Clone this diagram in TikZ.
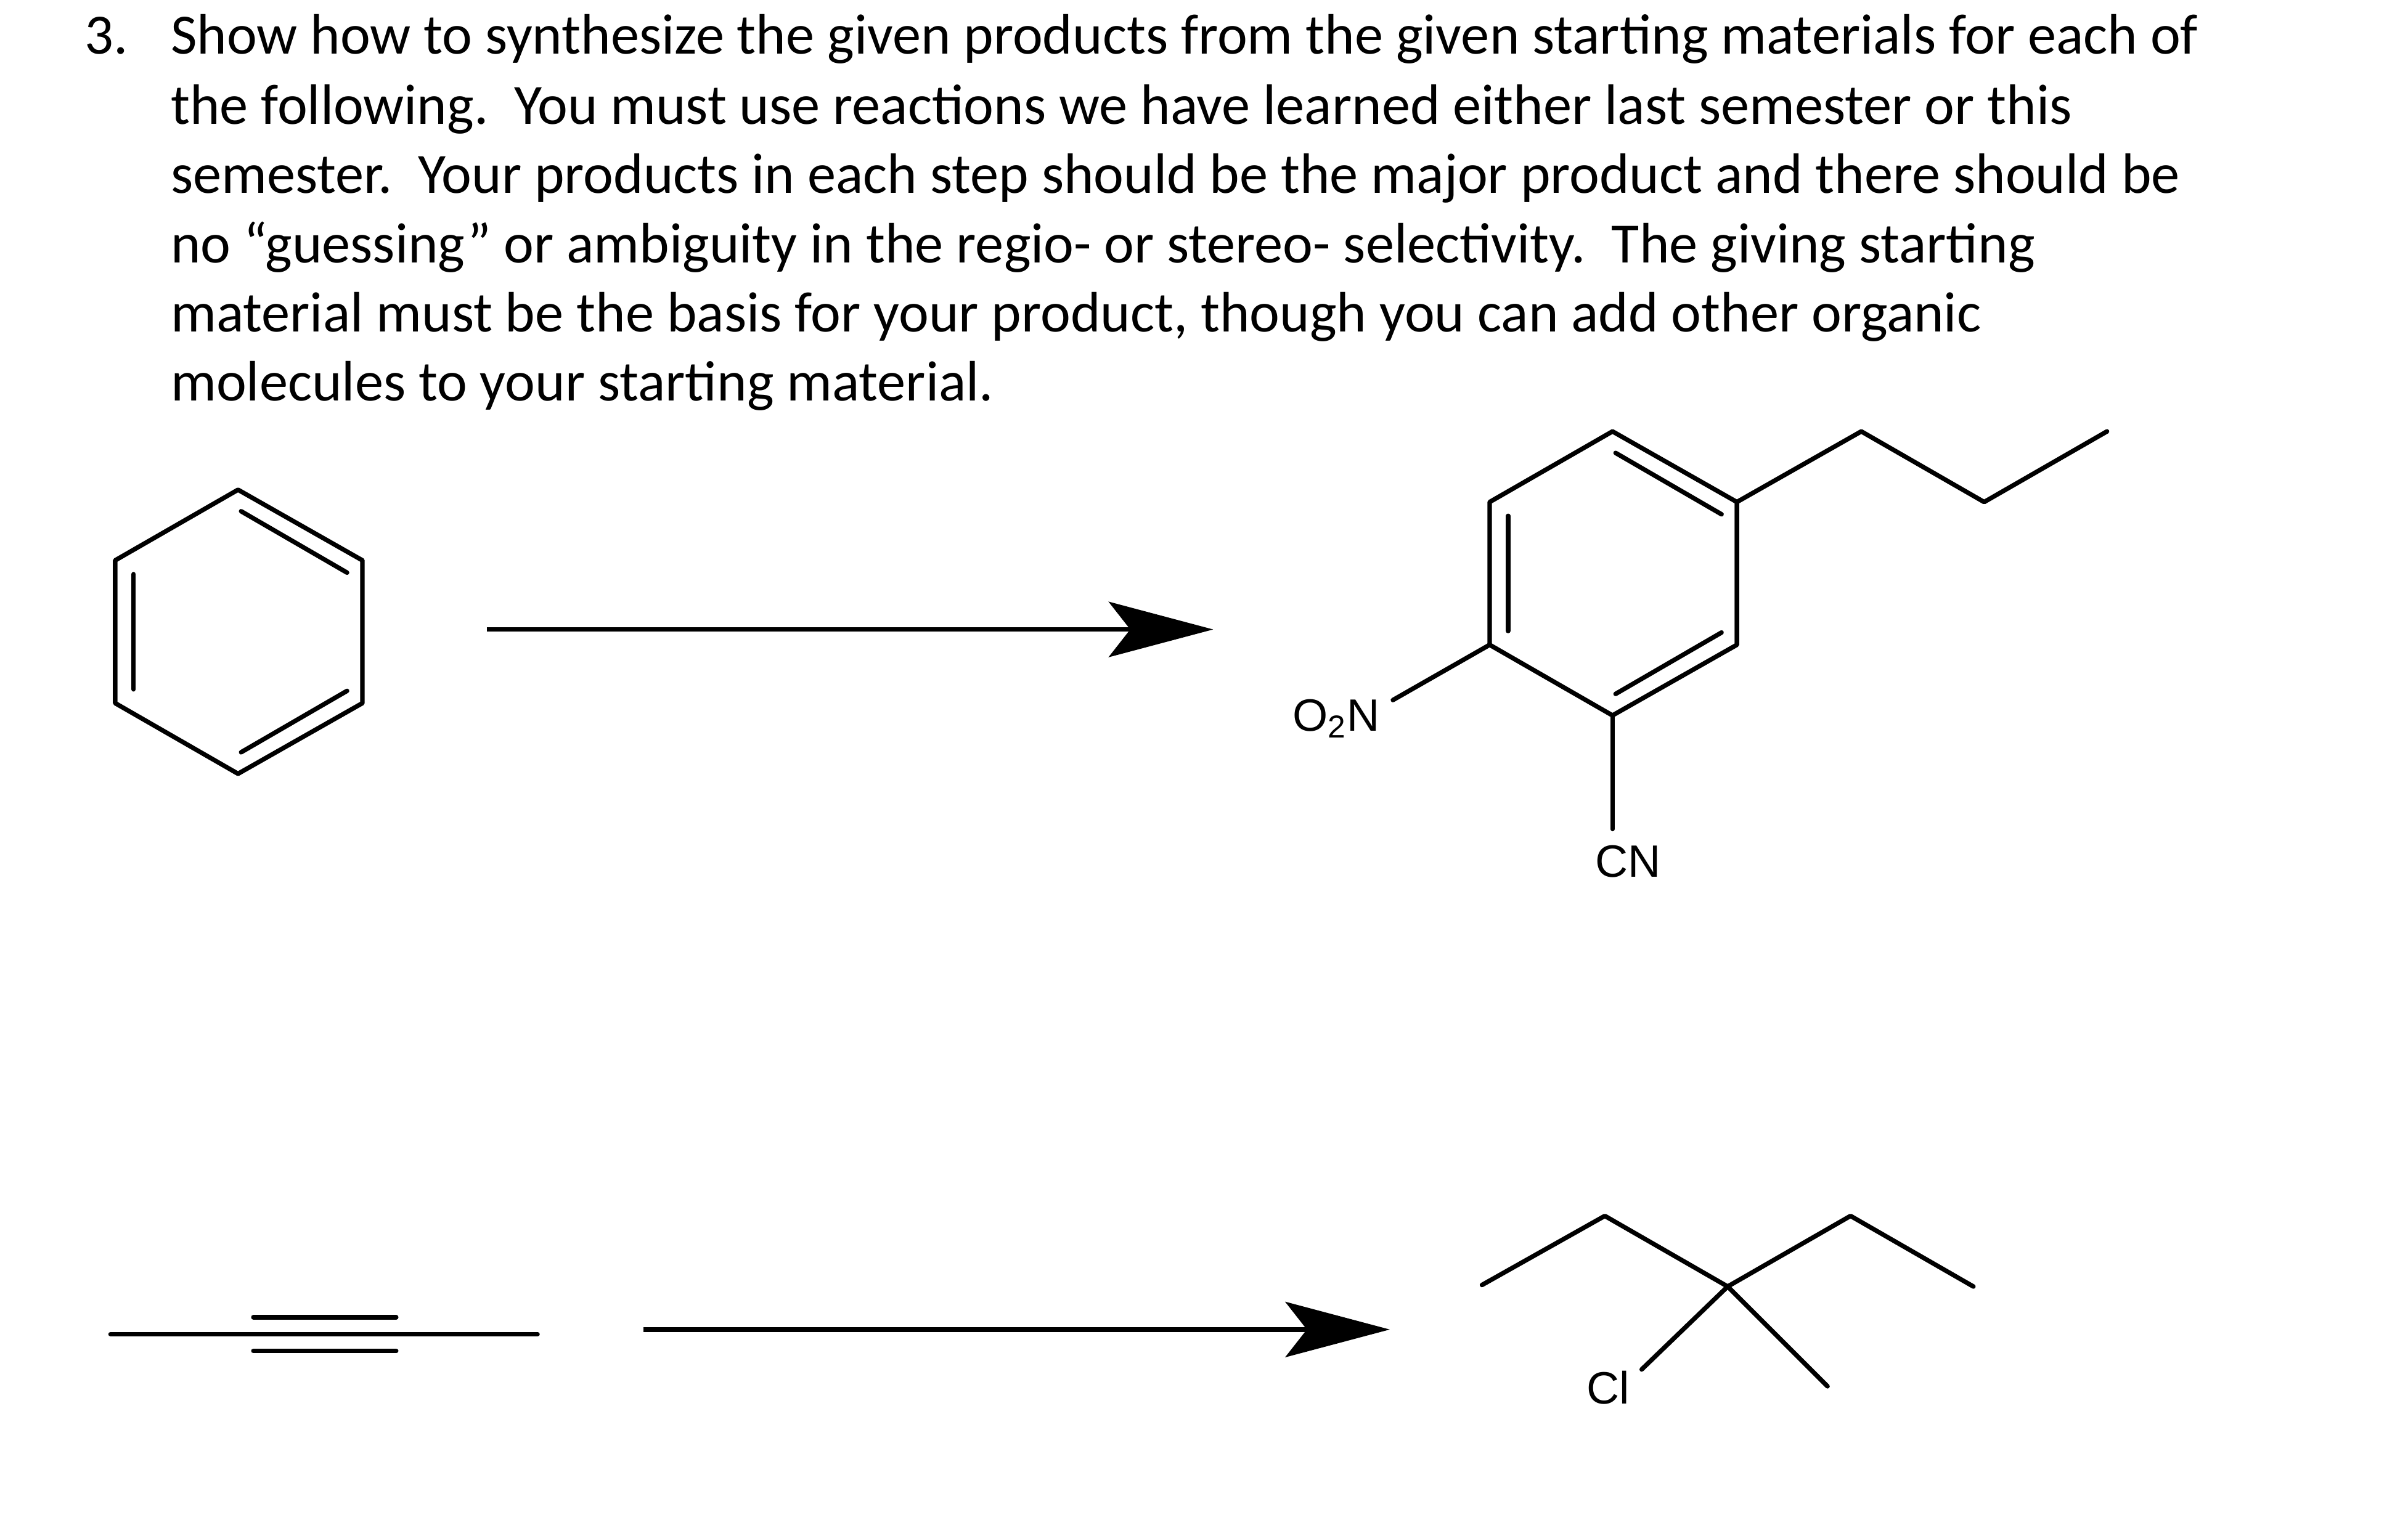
\documentclass[tikz,border=0pt]{standalone}
\usepackage{fontspec}
\setmainfont{Carlito}
\newfontfamily\lab{Liberation Sans}
\usetikzlibrary{arrows.meta}
\begin{document}
\begin{tikzpicture}[x=0.025cm,y=-0.025cm,
  bond/.style={line width=2.1pt,line cap=round,line join=round},
  rxn/.style={line width=2.1pt,-{Stealth[length=1.7cm,width=0.9cm,inset=0.35cm]}},
  txt/.style={anchor=base west,inner sep=0,font=\fontsize{26.4}{32}\selectfont},
  lbl/.style={inner sep=0,font=\lab\fontsize{21}{23}\selectfont}]
\useasboundingbox (0,0) rectangle (1568,995);
\node[txt] (n3) at (55,35) {3.};
\node[txt] (l1) at (111,35) {Show how to synthesize the given products from the given starting materials for each of};
\node[txt] (l2) at (111,81) {the following.\ \ You must use reactions we have learned either last semester or this};
\node[txt] (l3) at (111,126) {semester.\ \ Your products in each step should be the major product and there should be};
\node[txt] (l4) at (111,171) {no “guessing” or ambiguity in the regio- or stereo- selectivity.\ \ The giving starting};
\node[txt] (l5) at (111,216) {material must be the basis for your product, though you can add other organic};
\node[txt] (l6) at (111,261) {molecules to your starting material.};
% benzene
\coordinate (a1) at (155,319); \coordinate (a2) at (236,365); \coordinate (a3) at (236,458);
\coordinate (a4) at (155,504); \coordinate (a5) at (75,458); \coordinate (a6) at (75,365);
\draw[bond] (a1)--(a2)--(a3)--(a4)--(a5)--(a6)--cycle;
\draw[bond] (157,333)--(226,373);
\draw[bond] (226,450)--(157,490);
\draw[bond] (87,374)--(87,449);
% arrows
\coordinate (r1s) at (317,410); \coordinate (r1e) at (790,410);
\draw[rxn] (r1s)--(r1e);
\coordinate (r2s) at (419,866); \coordinate (r2e) at (905,866);
\draw[rxn] (r2s)--(r2e);
% product 1
\coordinate (b1) at (1050,281); \coordinate (b2) at (1131,327); \coordinate (b3) at (1131,420);
\coordinate (b4) at (1050,466); \coordinate (b5) at (970,420); \coordinate (b6) at (970,327);
\draw[bond] (b1)--(b2)--(b3)--(b4)--(b5)--(b6)--cycle;
\draw[bond] (1052,295)--(1121,335);
\draw[bond] (1121,412)--(1052,452);
\draw[bond] (982,336)--(982,411);
\coordinate (p1) at (1212,281); \coordinate (p2) at (1292,327); \coordinate (p3) at (1372,281);
\draw[bond] (b2)--(p1)--(p2)--(p3);
\node[lbl] (no2) at (870,468) {O\textsubscript{2}N};
\node[lbl] (cn) at (1060,561) {CN};
\draw[bond] (b5)--(907,456);
\draw[bond] (b4)--(1050,540);
% alkyne
\coordinate (y1) at (72,869); \coordinate (y2) at (350,869);
\draw[bond] (y1)--(y2);
\draw[bond] (165,858)--(258,858);
\draw[bond] (165,880)--(258,880);
% product 2
\coordinate (c0) at (1125,838);
\coordinate (c1) at (965,837); \coordinate (c2) at (1045,792);
\coordinate (c3) at (1205,792); \coordinate (c4) at (1285,838);
\coordinate (c5) at (1190,903);
\draw[bond] (c1)--(c2)--(c0)--(c3)--(c4);
\draw[bond] (c0)--(c5);
\node[lbl] (cl) at (1047,904) {Cl};
\draw[bond] (c0)--(1069,892);
\end{tikzpicture}
\end{document}
